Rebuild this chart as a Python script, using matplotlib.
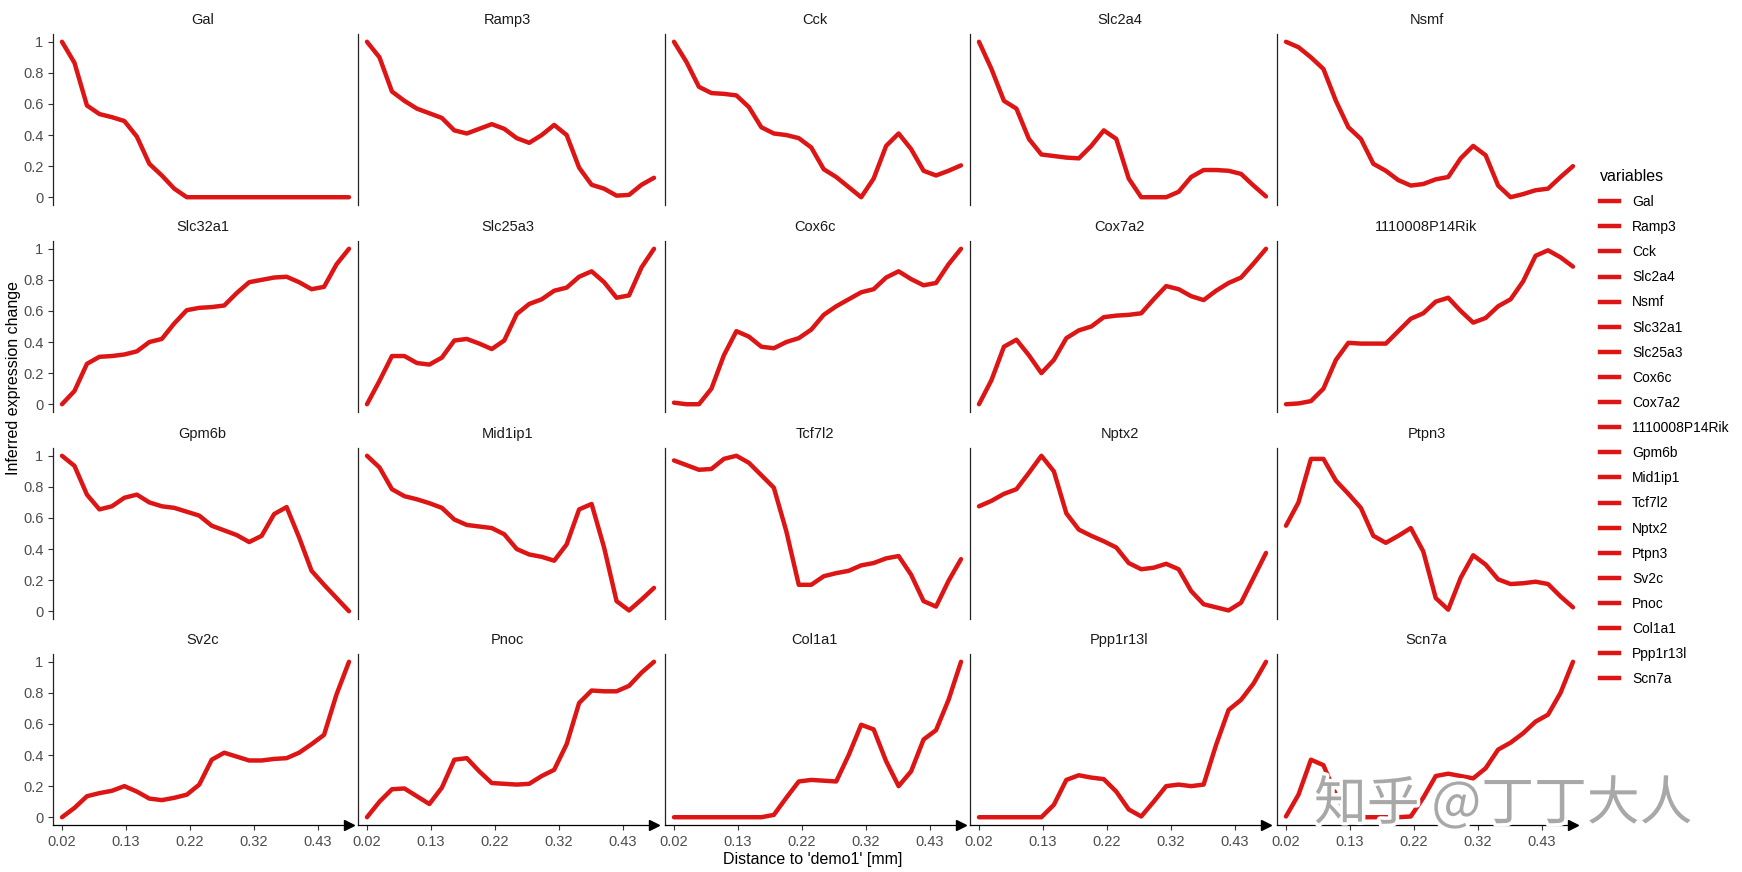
import matplotlib.pyplot as plt
import matplotlib.patheffects as pe
from matplotlib.lines import Line2D

plt.rcParams['font.family'] = ['Liberation Sans', 'DejaVu Sans']

# distance grid (mm) and inferred expression change per gene
distance = [0.02, 0.04, 0.06, 0.08, 0.10, 0.12, 0.14, 0.16, 0.18, 0.20, 0.22, 0.24,
            0.26, 0.28, 0.30, 0.32, 0.34, 0.36, 0.38, 0.40, 0.42, 0.44, 0.46, 0.48]

gal = [1.0, 0.865, 0.59, 0.535, 0.515, 0.49, 0.39, 0.215, 0.14, 0.055, 0.0, 0.0,
       0.0, 0.0, 0.0, 0.0, 0.0, 0.0, 0.0, 0.0, 0.0, 0.0, 0.0, 0.0]
ramp3 = [1.0, 0.90, 0.68, 0.62, 0.57, 0.54, 0.51, 0.43, 0.41, 0.44, 0.47, 0.44,
         0.38, 0.35, 0.40, 0.465, 0.40, 0.19, 0.08, 0.055, 0.01, 0.015, 0.08, 0.125]
cck = [1.0, 0.87, 0.71, 0.67, 0.665, 0.655, 0.58, 0.45, 0.41, 0.40, 0.38, 0.32,
       0.18, 0.13, 0.065, 0.0, 0.12, 0.33, 0.41, 0.31, 0.17, 0.14, 0.17, 0.205]
slc2a4 = [1.0, 0.825, 0.62, 0.57, 0.375, 0.275, 0.265, 0.255, 0.25, 0.33, 0.43, 0.375,
          0.12, 0.0, 0.0, 0.0, 0.035, 0.13, 0.175, 0.175, 0.17, 0.15, 0.075, 0.005]
nsmf = [1.0, 0.965, 0.90, 0.825, 0.62, 0.45, 0.375, 0.215, 0.17, 0.11, 0.075, 0.085,
        0.115, 0.13, 0.25, 0.33, 0.27, 0.075, 0.0, 0.02, 0.045, 0.055, 0.13, 0.20]
slc32a1 = [0.0, 0.085, 0.26, 0.305, 0.31, 0.32, 0.34, 0.40, 0.42, 0.52, 0.605, 0.62,
           0.625, 0.635, 0.715, 0.785, 0.80, 0.815, 0.82, 0.785, 0.74, 0.755, 0.90, 1.0]
slc25a3 = [0.0, 0.15, 0.31, 0.31, 0.265, 0.255, 0.30, 0.41, 0.42, 0.39, 0.355, 0.41,
           0.58, 0.645, 0.675, 0.73, 0.75, 0.82, 0.855, 0.785, 0.685, 0.70, 0.88, 1.0]
cox6c = [0.01, 0.0, 0.0, 0.10, 0.315, 0.47, 0.435, 0.37, 0.36, 0.40, 0.425, 0.48,
         0.575, 0.63, 0.675, 0.72, 0.74, 0.815, 0.855, 0.805, 0.765, 0.78, 0.90, 1.0]
cox7a2 = [0.0, 0.155, 0.37, 0.415, 0.315, 0.20, 0.285, 0.425, 0.475, 0.50, 0.56, 0.57,
          0.575, 0.585, 0.675, 0.76, 0.74, 0.695, 0.67, 0.73, 0.78, 0.815, 0.905, 1.0]
rik = [0.0, 0.005, 0.02, 0.10, 0.285, 0.395, 0.39, 0.39, 0.39, 0.47, 0.55, 0.585,
       0.66, 0.685, 0.60, 0.525, 0.555, 0.63, 0.675, 0.79, 0.955, 0.99, 0.945, 0.885]
gpm6b = [1.0, 0.935, 0.75, 0.655, 0.675, 0.73, 0.75, 0.70, 0.675, 0.665, 0.64, 0.615,
         0.55, 0.52, 0.49, 0.445, 0.485, 0.625, 0.67, 0.475, 0.26, 0.17, 0.085, 0.0]
mid1ip1 = [1.0, 0.925, 0.785, 0.74, 0.72, 0.695, 0.665, 0.59, 0.555, 0.545, 0.535, 0.495,
           0.40, 0.365, 0.35, 0.325, 0.43, 0.655, 0.69, 0.41, 0.065, 0.005, 0.075, 0.15]
tcf7l2 = [0.97, 0.94, 0.91, 0.915, 0.98, 1.0, 0.955, 0.875, 0.795, 0.515, 0.17, 0.17,
          0.225, 0.245, 0.26, 0.295, 0.31, 0.34, 0.355, 0.235, 0.065, 0.03, 0.195, 0.335]
nptx2 = [0.675, 0.71, 0.755, 0.785, 0.89, 1.0, 0.90, 0.63, 0.525, 0.485, 0.45, 0.41,
         0.31, 0.27, 0.28, 0.305, 0.27, 0.13, 0.045, 0.025, 0.005, 0.055, 0.215, 0.375]
ptpn3 = [0.55, 0.70, 0.98, 0.98, 0.84, 0.755, 0.665, 0.485, 0.44, 0.485, 0.535, 0.385,
         0.085, 0.01, 0.215, 0.36, 0.30, 0.205, 0.175, 0.18, 0.19, 0.175, 0.095, 0.025]
sv2c = [0.0, 0.06, 0.135, 0.155, 0.17, 0.20, 0.165, 0.12, 0.11, 0.125, 0.145, 0.21,
        0.37, 0.415, 0.39, 0.365, 0.365, 0.375, 0.38, 0.415, 0.47, 0.53, 0.79, 1.0]
pnoc = [0.0, 0.10, 0.18, 0.185, 0.135, 0.085, 0.19, 0.37, 0.38, 0.295, 0.22, 0.215,
        0.21, 0.215, 0.265, 0.305, 0.47, 0.735, 0.815, 0.81, 0.81, 0.845, 0.93, 1.0]
col1a1 = [0.0, 0.0, 0.0, 0.0, 0.0, 0.0, 0.0, 0.0, 0.015, 0.125, 0.23, 0.24,
          0.235, 0.23, 0.40, 0.595, 0.565, 0.36, 0.20, 0.295, 0.50, 0.56, 0.755, 1.0]
ppp1r13l = [0.0, 0.0, 0.0, 0.0, 0.0, 0.0, 0.08, 0.24, 0.27, 0.255, 0.245, 0.165,
            0.05, 0.005, 0.10, 0.20, 0.21, 0.20, 0.21, 0.465, 0.69, 0.755, 0.86, 1.0]
scn7a = [0.005, 0.145, 0.37, 0.335, 0.145, 0.005, 0.0, 0.0, 0.0, 0.0, 0.005, 0.125,
         0.265, 0.28, 0.265, 0.25, 0.315, 0.435, 0.48, 0.54, 0.615, 0.66, 0.80, 1.0]

genes = ['Gal', 'Ramp3', 'Cck', 'Slc2a4', 'Nsmf',
         'Slc32a1', 'Slc25a3', 'Cox6c', 'Cox7a2', '1110008P14Rik',
         'Gpm6b', 'Mid1ip1', 'Tcf7l2', 'Nptx2', 'Ptpn3',
         'Sv2c', 'Pnoc', 'Col1a1', 'Ppp1r13l', 'Scn7a']
values = [gal, ramp3, cck, slc2a4, nsmf, slc32a1, slc25a3, cox6c, cox7a2, rik,
          gpm6b, mid1ip1, tcf7l2, nptx2, ptpn3, sv2c, pnoc, col1a1, ppp1r13l, scn7a]

x_ticks = [0.02, 0.1225, 0.225, 0.3275, 0.43]
x_labels = ['0.02', '0.13', '0.22', '0.32', '0.43']
y_ticks = [0, 0.2, 0.4, 0.6, 0.8, 1]
y_labels = ['0', '0.2', '0.4', '0.6', '0.8', '1']

RED = '#DD1515'
W, H = 1742, 872
col_left = [53, 358, 665, 970, 1277]
row_top = [34, 241, 448, 654]
PW, PH = 299, 171

fig = plt.figure(figsize=(W / 100, H / 100), dpi=100)

for i, (gene, vals) in enumerate(zip(genes, values)):
    r, c = divmod(i, 5)
    ax = fig.add_axes([col_left[c] / W, 1 - (row_top[r] + PH) / H, PW / W, PH / H])
    ax.plot(distance, vals, color=RED, lw=3.2, solid_capstyle='round', solid_joinstyle='round')
    ax.set_xlim(0.0056, 0.4848)
    ax.set_ylim(-0.05, 1.05)
    ax.set_title(gene, fontsize=10.5, pad=7, color='#1a1a1a')
    for s in ['top', 'right']:
        ax.spines[s].set_visible(False)
    ax.spines['left'].set_linewidth(0.9)
    ax.spines['left'].set_color('#222222')
    ax.tick_params(colors='#333333', labelcolor='#4D4D4D', labelsize=10.5, length=3.5, width=0.8)
    if c == 0:
        ax.set_yticks(y_ticks)
        ax.set_yticklabels(y_labels)
    else:
        ax.set_yticks([])
    if r == 3:
        ax.spines['bottom'].set_linewidth(0.9)
        ax.spines['bottom'].set_color('black')
        ax.set_xticks(x_ticks)
        ax.set_xticklabels(x_labels)
        ax.plot(0.99, 0, marker='>', color='black', markersize=7,
                transform=ax.transAxes, clip_on=False)
    else:
        ax.spines['bottom'].set_visible(False)
        ax.set_xticks([])

fig.text(14 / W, 1 - 378 / H, 'Inferred expression change', rotation=90,
         ha='center', va='center', fontsize=11.5)
fig.text(813 / W, 1 - 859 / H, "Distance to 'demo1' [mm]", ha='center', va='center', fontsize=11.5)

handles = [Line2D([], [], color=RED, lw=3.2) for _ in genes]
leg = fig.legend(handles, genes, title='variables', loc='upper left',
                 bbox_to_anchor=(1593 / W, 1 - 162 / H), frameon=False,
                 fontsize=10, title_fontsize=11.5, handlelength=1.4,
                 handletextpad=0.9, labelspacing=0.8, borderpad=0,
                 alignment='left')

fig.text(1314 / W, 1 - 804 / H, '知乎 @丁丁大人', fontsize=38, color='#a8a8a8',
         family=['Noto Sans CJK SC', 'DejaVu Sans'], ha='left', va='center', zorder=10,
         path_effects=[pe.withStroke(linewidth=5, foreground='white')])

fig.savefig('out.png', dpi=100)
